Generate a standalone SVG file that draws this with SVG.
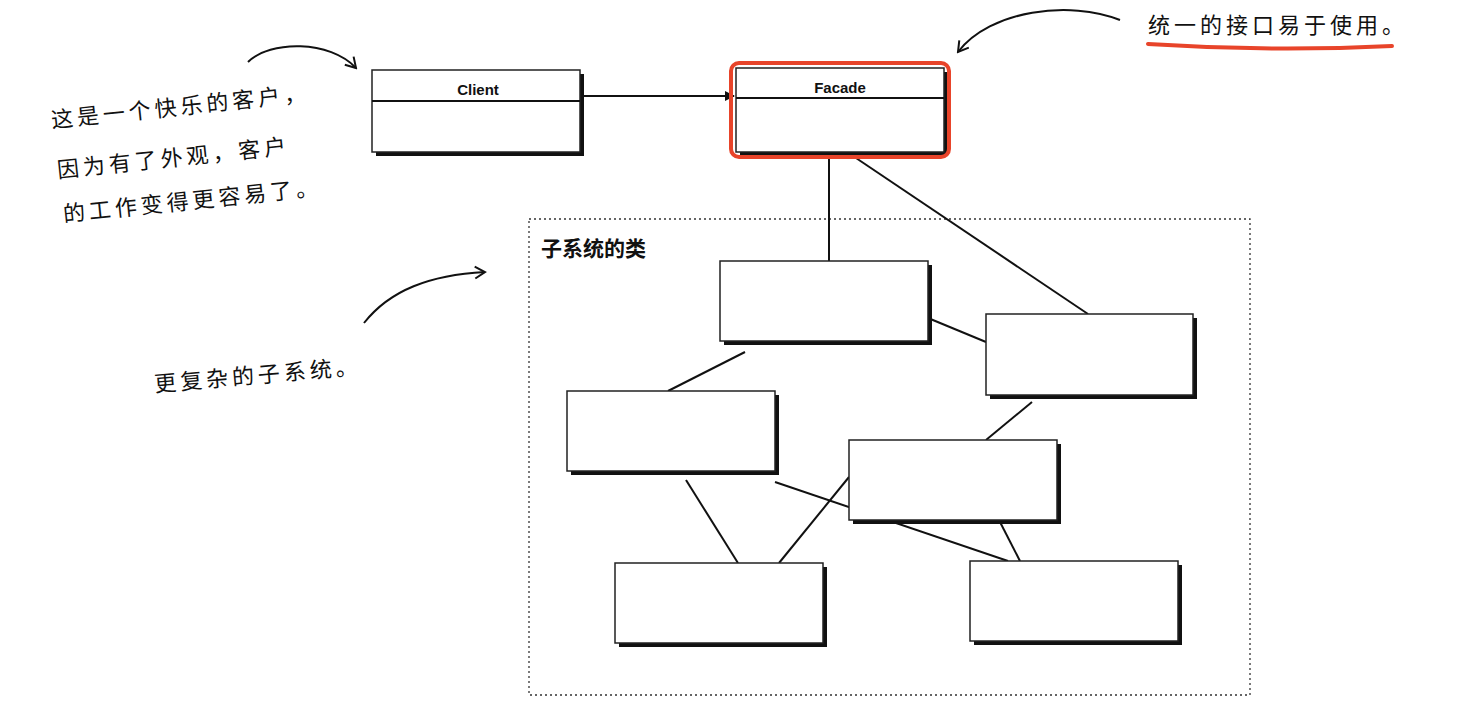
<svg xmlns="http://www.w3.org/2000/svg" width="1468" height="716" viewBox="0 0 1468 716">
<style>
.box{fill:#fff;stroke:#222;stroke-width:1.5}
.sh{fill:#111}
.ln{stroke:#111;stroke-width:2;fill:none}
.hand{font-family:"Noto Sans CJK SC",sans-serif;font-size:22px;fill:#111;letter-spacing:4px}
.lbl{font-family:"Liberation Sans",Arial,sans-serif;font-weight:bold;font-size:15px;fill:#111}
</style>
<defs>
<marker id="tri" markerWidth="10" markerHeight="10" refX="9" refY="5" orient="auto" markerUnits="userSpaceOnUse"><path d="M0,0 L10,5 L0,10 z" fill="#111"/></marker>
<marker id="open" markerWidth="14" markerHeight="14" refX="12" refY="7" orient="auto" markerUnits="userSpaceOnUse"><path d="M2,1 L12,7 L2,13" fill="none" stroke="#111" stroke-width="2"/></marker>
</defs>
<rect width="1468" height="716" fill="#fff"/>
<rect x="529" y="219" width="721" height="476" fill="none" stroke="#333" stroke-width="1.3" stroke-dasharray="2,3"/>
<text x="541" y="256" font-family="Noto Sans CJK SC,sans-serif" font-weight="bold" font-size="21" fill="#111">子系统的类</text>
<g id="connectors">
<line class="ln" x1="582" y1="96" x2="734" y2="96" marker-end="url(#tri)"/>
<line class="ln" x1="829" y1="155" x2="829" y2="261"/>
<line class="ln" x1="856" y1="158" x2="1088" y2="314"/>
<line class="ln" x1="928" y1="318" x2="986" y2="342"/>
<line class="ln" x1="745" y1="352" x2="668" y2="391"/>
<line class="ln" x1="1032" y1="402" x2="986" y2="440"/>
<line class="ln" x1="686" y1="480" x2="738" y2="563"/>
<line class="ln" x1="775" y1="482" x2="1008" y2="561"/>
<line class="ln" x1="849" y1="477" x2="779" y2="563"/>
<line class="ln" x1="1000" y1="522" x2="1020" y2="561"/>
</g>
<g id="client"><rect class="sh" x="376" y="74" width="208" height="82"/><rect class="box" x="372" y="70" width="208" height="82"/><line class="ln" stroke-width="1.3" x1="372" y1="101" x2="580" y2="101"/><text class="lbl" x="478" y="95" text-anchor="middle">Client</text></g>
<g id="facade"><rect class="sh" x="740" y="72" width="208" height="84"/><rect class="box" x="736" y="68" width="208" height="84"/><line class="ln" stroke-width="1.3" x1="736" y1="98" x2="944" y2="98"/><text class="lbl" x="840" y="93" text-anchor="middle">Facade</text><rect x="731" y="63" width="218" height="94" rx="8" fill="none" stroke="#e8442a" stroke-width="4"/></g>
<g id="a"><rect class="sh" x="724" y="265" width="208" height="80"/><rect class="box" x="720" y="261" width="208" height="80"/></g>
<g id="b"><rect class="sh" x="990" y="318" width="207" height="81"/><rect class="box" x="986" y="314" width="207" height="81"/></g>
<g id="c"><rect class="sh" x="571" y="395" width="208" height="80"/><rect class="box" x="567" y="391" width="208" height="80"/></g>
<g id="d"><rect class="sh" x="853" y="444" width="208" height="80"/><rect class="box" x="849" y="440" width="208" height="80"/></g>
<g id="e"><rect class="sh" x="619" y="567" width="208" height="80"/><rect class="box" x="615" y="563" width="208" height="80"/></g>
<g id="f"><rect class="sh" x="974" y="565" width="208" height="80"/><rect class="box" x="970" y="561" width="208" height="80"/></g>
<g id="notes">
<path class="ln" d="M248,62 C270,40 330,40 356,68" marker-end="url(#open)"/>
<path class="ln" d="M364,323 C390,290 430,275 485,272" marker-end="url(#open)"/>
<path class="ln" d="M1120,20 C1070,0 990,10 958,52" marker-end="url(#open)"/>
<text class="hand" transform="rotate(-6 52 128)" x="52" y="128">这是一个快乐的客户，</text>
<text class="hand" transform="rotate(-6 58 178)" x="58" y="178">因为有了外观，客户</text>
<text class="hand" transform="rotate(-6 64 222)" x="64" y="222">的工作变得更容易了。</text>
<text class="hand" transform="rotate(-5 155 392)" x="155" y="392">更复杂的子系统。</text>
<text class="hand" x="1148" y="33">统一的接口易于使用。</text>
<path d="M1148,44 Q1270,52 1392,46" fill="none" stroke="#e8442a" stroke-width="4" stroke-linecap="round"/>
</g>
</svg>
